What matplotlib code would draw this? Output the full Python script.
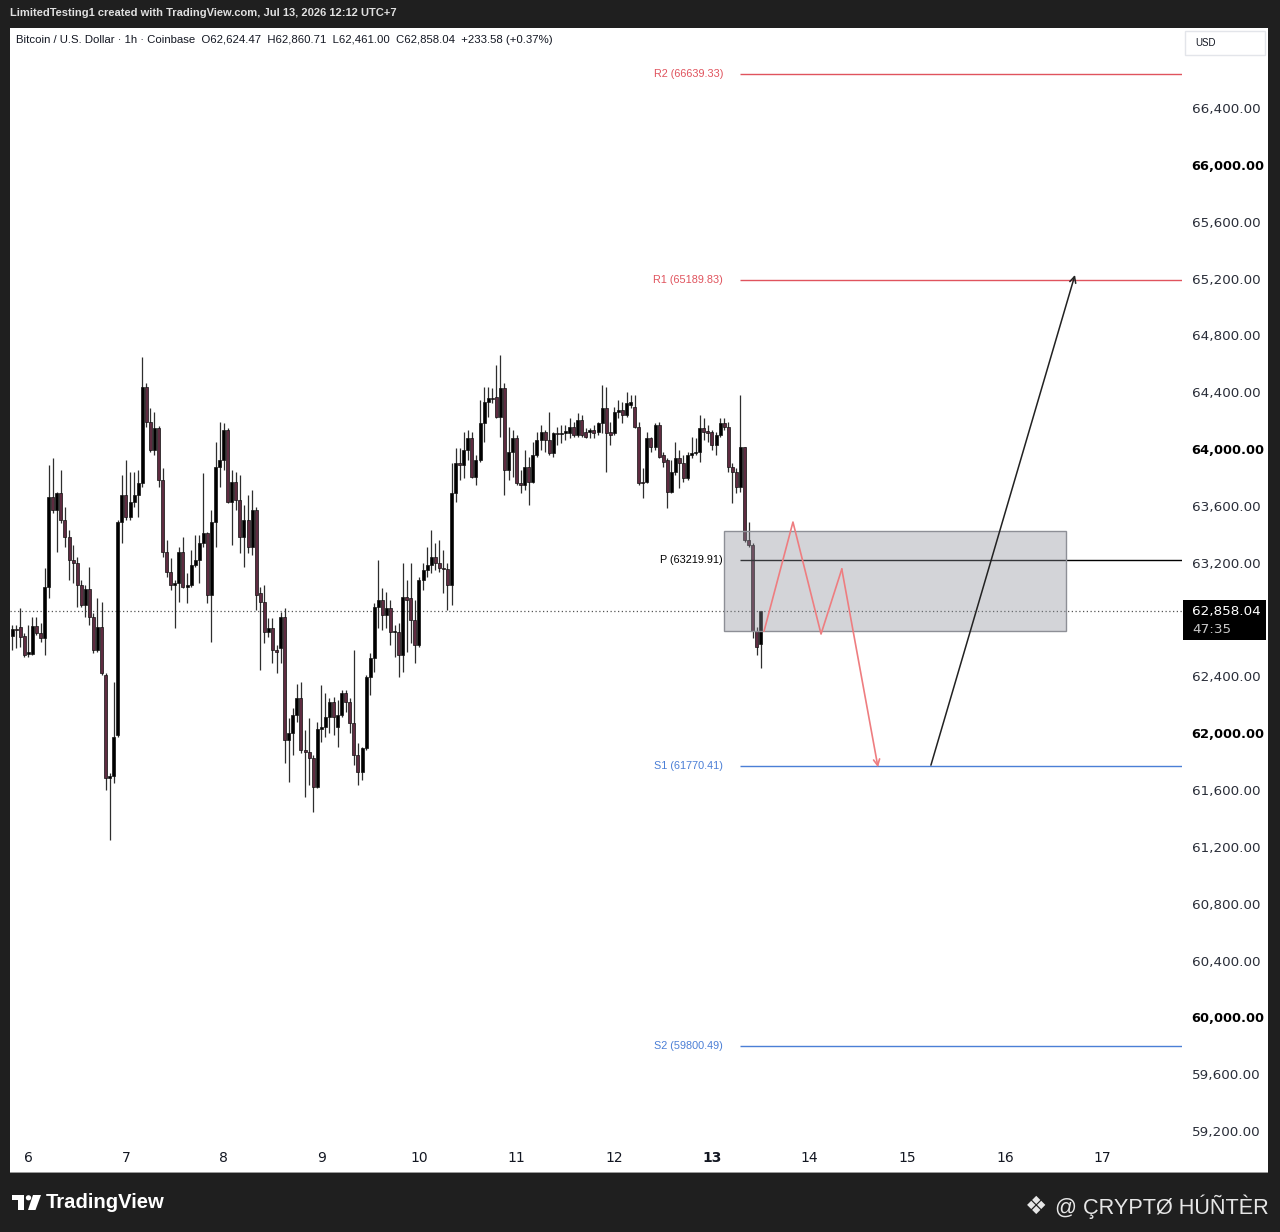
import numpy as np
import matplotlib
matplotlib.use("Agg")
import matplotlib.pyplot as plt
import matplotlib.transforms as mtrans
from matplotlib.patches import Rectangle, Circle, Polygon
from matplotlib import font_manager

W, H = 1280, 1232

# hourly BTC/USD candles, Jul 5 20:00 -> Jul 13 12:00
opens = [
    62684, 62735, 62750, 62684, 62555, 62557, 62754, 62703, 62668, 63027,
    63665, 63571, 63688, 63500, 63383, 63219, 63196, 63043, 62902, 63013,
    62820, 62586, 62750, 62410, 61682, 61699, 61987, 63489, 63677, 63524,
    63630, 63677, 63759, 64439, 64193, 63993, 64146, 63782, 63278, 63137,
    63043, 63055, 63278, 63031, 63043, 63184, 63219, 63336, 63406, 62972,
    63488, 63875, 63922, 64133, 63629, 63770, 63641, 63383, 63500, 63312,
    63570, 62984, 62925, 62714, 62737, 62585, 62597, 62820, 61951, 61998,
    62127, 62245, 61881, 61869, 61822, 61623, 62033, 62045, 62116, 62221,
    62045, 62127, 62280, 62221, 62069, 61846, 61729, 61893, 62397, 62526,
    62890, 62937, 62832, 62879, 62710, 62715, 62550, 62961, 62949, 62797,
    62621, 63078, 63149, 63184, 63242, 63196, 63160, 63156, 63043, 63688,
    63899, 63888, 63993, 64075, 63806, 63923, 64181, 64333, 64357, 64369,
    64228, 64427, 63852, 63981, 64075, 63759, 63747, 63876, 63770, 63958,
    64064, 64122, 64064, 63970, 64111, 64106, 64115, 64115, 64157, 64099,
    64204, 64122, 64122, 64134, 64122, 64181, 64286, 64122, 64110, 64263,
    64275, 64239, 64310, 64298, 64157, 63770, 63770, 64075, 64017, 64169,
    63958, 63923, 63700, 63841, 63935, 63899, 63794, 63958, 63970, 63981,
    64146, 64122, 64122, 64028, 64099, 64181, 64157, 63876, 63841, 63735,
    64017, 63360, 63325, 62720, 62624.47]
highs = [
    62759, 62762, 62879, 62703, 62762, 62820, 62820, 62773, 63160, 63888,
    63935, 63700, 63852, 63594, 63430, 63325, 63242, 63078, 63043, 63172,
    62844, 62949, 62926, 62421, 61718, 62363, 63500, 63817, 63923, 63841,
    63841, 63852, 64650, 64462, 64286, 64263, 64160, 63864, 63360, 63231,
    63078, 63313, 63383, 63125, 63289, 63395, 63395, 63828, 63418, 63570,
    64051, 64192, 64180, 64145, 63852, 63840, 63817, 63605, 63676, 63711,
    63594, 63031, 63042, 62808, 62808, 62620, 62855, 62878, 62104, 62174,
    62344, 62362, 62022, 62104, 61846, 62080, 62339, 62280, 62245, 62257,
    62233, 62303, 62303, 62245, 62585, 61928, 61905, 62409, 62561, 62913,
    63218, 63019, 62996, 62937, 62762, 62773, 63195, 63078, 63195, 62937,
    63102, 63196, 63313, 63430, 63336, 63360, 63289, 63196, 63899, 64005,
    64005, 64122, 64134, 64122, 63958, 64345, 64439, 64439, 64427, 64591,
    64662, 64462, 64157, 64134, 64099, 63852, 63993, 63946, 64052, 64122,
    64169, 64134, 64263, 64122, 64157, 64169, 64169, 64216, 64193, 64251,
    64239, 64146, 64146, 64169, 64193, 64451, 64439, 64193, 64298, 64345,
    64333, 64404, 64380, 64380, 64193, 63864, 64122, 64087, 64181, 64193,
    63981, 63935, 63923, 64052, 63993, 63958, 63981, 64087, 64075, 64239,
    64216, 64169, 64134, 64122, 64216, 64216, 64193, 63899, 63864, 64380,
    64017, 63489, 63336, 62750, 62860.71]
lows = [
    62586, 62600, 62609, 62539, 62539, 62550, 62691, 62644, 62550, 62949,
    63547, 63278, 63477, 63313, 63078, 63055, 62891, 62891, 62820, 62762,
    62562, 62574, 62410, 61600, 61248, 61647, 61976, 63336, 63500, 63500,
    63594, 63524, 63735, 64157, 63981, 63958, 63735, 63242, 63102, 63008,
    62738, 62926, 63020, 62914, 63031, 63172, 63055, 63312, 62913, 62644,
    63312, 63734, 63852, 63617, 63324, 63570, 63265, 63171, 63265, 63253,
    62866, 62444, 62632, 62679, 62491, 62421, 62491, 61787, 61658, 61846,
    62080, 61858, 61553, 61635, 61447, 61611, 61940, 61975, 61998, 61987,
    61905, 62116, 62151, 61998, 61775, 61635, 61670, 61881, 62268, 62432,
    62737, 62726, 62738, 62621, 62539, 62398, 62433, 62574, 62633, 62492,
    62609, 63008, 63102, 63125, 63149, 63137, 62984, 62867, 62902, 63630,
    63782, 63794, 63923, 63794, 63747, 63911, 64052, 64228, 64322, 64216,
    64087, 63677, 63782, 63806, 63747, 63688, 63712, 63606, 63759, 63946,
    63993, 63981, 63958, 63946, 64028, 64040, 64064, 64075, 64087, 64087,
    64087, 64075, 64080, 64075, 64099, 64110, 63841, 64028, 64099, 64216,
    64181, 64228, 64286, 64146, 63747, 63653, 63759, 63981, 63993, 63935,
    63876, 63583, 63688, 63817, 63723, 63770, 63782, 63935, 63958, 63911,
    64064, 64052, 63993, 63958, 64087, 64134, 63841, 63618, 63688, 63700,
    63348, 63313, 62668, 62550, 62461.00]
closes = [
    62731, 62725, 62680, 62550, 62570, 62754, 62703, 62668, 63031, 63665,
    63571, 63688, 63500, 63383, 63219, 63196, 63043, 62902, 63013, 62820,
    62586, 62750, 62421, 61682, 61699, 61976, 63489, 63677, 63524, 63630,
    63677, 63759, 64439, 64193, 63993, 64146, 63782, 63278, 63137, 63043,
    63055, 63278, 63031, 63043, 63184, 63219, 63336, 63406, 62972, 63488,
    63875, 63922, 64133, 63629, 63770, 63641, 63383, 63500, 63312, 63570,
    62972, 62925, 62714, 62737, 62585, 62573, 62820, 61951, 61998, 62127,
    62245, 61881, 61869, 61822, 61623, 62033, 62045, 62116, 62221, 62116,
    62127, 62280, 62221, 62069, 61846, 61729, 61893, 62397, 62526, 62890,
    62937, 62831, 62879, 62715, 62718, 62550, 62961, 62937, 62797, 62621,
    63078, 63149, 63184, 63242, 63196, 63160, 63156, 63043, 63688, 63899,
    63888, 63993, 64075, 63806, 63923, 64181, 64333, 64357, 64350, 64228,
    64427, 63852, 63981, 64075, 63759, 63747, 63876, 63770, 63958, 64064,
    64122, 64064, 63970, 64111, 64106, 64115, 64122, 64157, 64099, 64204,
    64099, 64087, 64134, 64110, 64181, 64286, 64110, 64099, 64263, 64275,
    64239, 64322, 64333, 64157, 63759, 63759, 64075, 64017, 64169, 63946,
    63911, 63700, 63841, 63935, 63899, 63794, 63958, 63970, 63981, 64146,
    64122, 64115, 64028, 64099, 64181, 64157, 63876, 63841, 63735, 64017,
    63360, 63325, 62720, 62609, 62858.04]

day_labels = ['6', '7', '8', '9', '10', '11', '12', '13', '14', '15', '16', '17']
first_day_bar = 4       # bar index of Jul 6 00:00
bars_per_day = 24
price_ticks = [59200, 59600, 60000, 60400, 60800, 61200, 61600, 62000, 62400,
               63200, 63600, 64000, 64400, 64800, 65200, 65600, 66000, 66400]

pivot_names = ['R2', 'R1', 'P', 'S1', 'S2']
pivot_values = [66639.33, 65189.83, 63219.91, 61770.41, 59800.49]
pivot_colors = ['#e0535d', '#e0535d', '#000000', '#4b7fd6', '#4b7fd6']
pivot_start = 179

# drawings on the chart (bar index, price)
zone_bars = [174.9, 259.0]
zone_prices = [62719, 63423]
path_bars = [184.8, 191.9, 198.8, 203.9, 212.8]
path_prices = [62719, 63486, 62698, 63155, 61760]
arrow_bars = [225.8, 261.2]
arrow_prices = [61775, 65225]

names = {f.name for f in font_manager.fontManager.ttflist}
narrow = 'Liberation Sans' if 'Liberation Sans' in names else 'DejaVu Sans'


def box(x0, y0, x1, y1):
    return [x0 / W, 1 - y1 / H, (x1 - x0) / W, (y1 - y0) / H]


fig = plt.figure(figsize=(W / 100, H / 100), dpi=100, facecolor='#1f1f1f')
fig.add_artist(Rectangle((10 / W, 1 - 1172 / H), 1258 / W, 1144 / H,
                         transform=fig.transFigure, facecolor='white',
                         edgecolor='none', zorder=-5))
fig.add_artist(Rectangle((10 / W, 1 - 1173 / H), 1258 / W, 1.2 / H,
                         transform=fig.transFigure, facecolor='#9a9a9a',
                         edgecolor='none', zorder=-4))

ax = fig.add_axes(box(10, 28, 1182, 1143))
ax.set_facecolor('white')
ymin, ymax = 59116, 66963
ax.set_xlim(-0.5, 287.5)
ax.set_ylim(ymin, ymax)
dpp = (ymax - ymin) / (1143 - 28)   # dollars per pixel

o = np.array(opens)
hi = np.array(highs)
lo = np.array(lows)
c = np.array(closes)
x = np.arange(len(c))
up = c >= o
body_cols = np.where(up, '#000000', '#5e2b40')
ax.vlines(x, lo, hi, color='#2e2e2e', lw=0.9, zorder=2)
ax.bar(x, np.maximum(np.abs(c - o), 1.2 * dpp), bottom=np.minimum(o, c), width=0.74,
       color=body_cols, edgecolor='#111111', linewidth=0.5, zorder=3)

# last price dotted line
ax.axhline(c[-1], color='#555555', lw=0.9, ls=(0, (1, 2)), zorder=1)

# pivot levels
for name, val, col in zip(pivot_names, pivot_values, pivot_colors):
    ax.hlines(val, pivot_start, 287.5, color=col, lw=1.0, zorder=4)
    ax.text(pivot_start - 4.3, val, f'{name} ({val:.2f})', ha='right', va='center',
            color=col, fontsize=7.8, family=narrow, zorder=6)

# grey zone
ax.add_patch(Rectangle((zone_bars[0], zone_prices[0]), zone_bars[1] - zone_bars[0],
                       zone_prices[1] - zone_prices[0],
                       facecolor=(0.55, 0.56, 0.6, 0.38), edgecolor='#8d8f96',
                       lw=1.0, zorder=5))

# projected path
ax.plot(path_bars[:-1], path_prices[:-1], color='#ee7d80', lw=1.2, zorder=6)
ax.annotate('', xy=(path_bars[-1], path_prices[-1]), xytext=(path_bars[-2], path_prices[-2]),
            arrowprops=dict(arrowstyle='->', color='#ee7d80', lw=1.2,
                            shrinkA=0, shrinkB=0, mutation_scale=11), zorder=6)
ax.annotate('', xy=(arrow_bars[1], arrow_prices[1]), xytext=(arrow_bars[0], arrow_prices[0]),
            arrowprops=dict(arrowstyle='->', color='#222222', lw=1.1,
                            shrinkA=0, shrinkB=0, mutation_scale=11), zorder=6)

# axes
for s in ax.spines.values():
    s.set_visible(False)
ax.set_xticks([first_day_bar + bars_per_day * k for k in range(len(day_labels))])
ax.set_xticklabels(day_labels)
ax.tick_params(axis='x', length=0, pad=6, labelsize=10, labelcolor='#131722')
for lab in ax.get_xticklabels():
    if lab.get_text() == '13':
        lab.set_fontweight('bold')
ax.yaxis.tick_right()
ax.set_yticks(price_ticks)
ax.set_yticklabels([f'{v:,.2f}' for v in price_ticks])
ax.tick_params(axis='y', length=0, pad=7, labelsize=9.7, labelcolor='#2a2e39')
for lab, v in zip(ax.get_yticklabels(), price_ticks):
    if v % 2000 == 0:
        lab.set_fontweight('bold')
        lab.set_fontsize(9.4)
        lab.set_color('#000000')

# last price tag
trans = mtrans.blended_transform_factory(ax.transAxes, ax.transData)
ax.add_patch(Rectangle((1.0009, c[-1] - 29 * dpp), 0.0708, 40 * dpp, transform=trans,
                       facecolor='black', edgecolor='none', clip_on=False, zorder=7))
ax.text(1.0085, c[-1], f'{c[-1]:,.2f}', transform=trans, color='white', fontsize=9.7,
        va='center', ha='left', clip_on=False, zorder=8)
ax.text(1.0085, c[-1] - 18 * dpp, '47:35', transform=trans, color='#c8c8c8', fontsize=9.7,
        va='center', ha='left', clip_on=False, zorder=8)

# USD box
fig.add_artist(Rectangle((1185 / W, 1 - 55 / H), 80 / W, 24 / H, transform=fig.transFigure,
                         facecolor='white', edgecolor='#e3e5ea', lw=1.0, zorder=5))
fig.text(1195 / W, 1 - 43 / H, 'USD', color='#131722', fontsize=7, va='center',
         family=narrow, zorder=6)

# header
fig.text(10 / W, 1 - 13 / H, 'LimitedTesting1 created with TradingView.com, Jul 13, 2026 12:12 UTC+7',
         color='#e0e0e0', fontsize=8, va='center', fontweight='bold', family=narrow)
fig.text(16 / W, 1 - 40 / H,
         'Bitcoin / U.S. Dollar \u00b7 1h \u00b7 Coinbase  O62,624.47  H62,860.71  '
         'L62,461.00  C62,858.04  +233.58 (+0.37%)',
         color='#131722', fontsize=8.2, va='center', family=narrow)

# footer: TradingView logo
fig.add_artist(Rectangle((12 / W, 1 - 1200 / H), 12 / W, 5 / H, transform=fig.transFigure,
                         facecolor='white', edgecolor='none'))
fig.add_artist(Rectangle((18 / W, 1 - 1210 / H), 6 / W, 15 / H, transform=fig.transFigure,
                         facecolor='white', edgecolor='none'))
fig.add_artist(Circle((28.5 / W, 1 - 1197.8 / H), 2.7 / W, transform=fig.transFigure,
                      facecolor='white', edgecolor='none'))
fig.add_artist(Polygon([(33 / W, 1 - 1195 / H), (41 / W, 1 - 1195 / H),
                        (35.5 / W, 1 - 1210 / H), (28 / W, 1 - 1210 / H)],
                       closed=True, transform=fig.transFigure,
                       facecolor='white', edgecolor='none'))
fig.text(46 / W, 1 - 1202 / H, 'TradingView', color='white', fontsize=14.6,
         fontweight='bold', va='center', family=narrow)

# footer: watermark
fig.text(1036 / W, 1 - 1207 / H, '\u2756', color='#e6e6e6', fontsize=18,
         va='center', ha='center', family=['DejaVu Sans'])
fig.text(1055 / W, 1 - 1207 / H, '@ \u00c7RYPT\u00d8 H\u00da\u00d1T\u00c8R', color='#e6e6e6',
         fontsize=15.6, va='center', family=narrow)

fig.savefig('out.png', dpi=100, facecolor=fig.get_facecolor())
